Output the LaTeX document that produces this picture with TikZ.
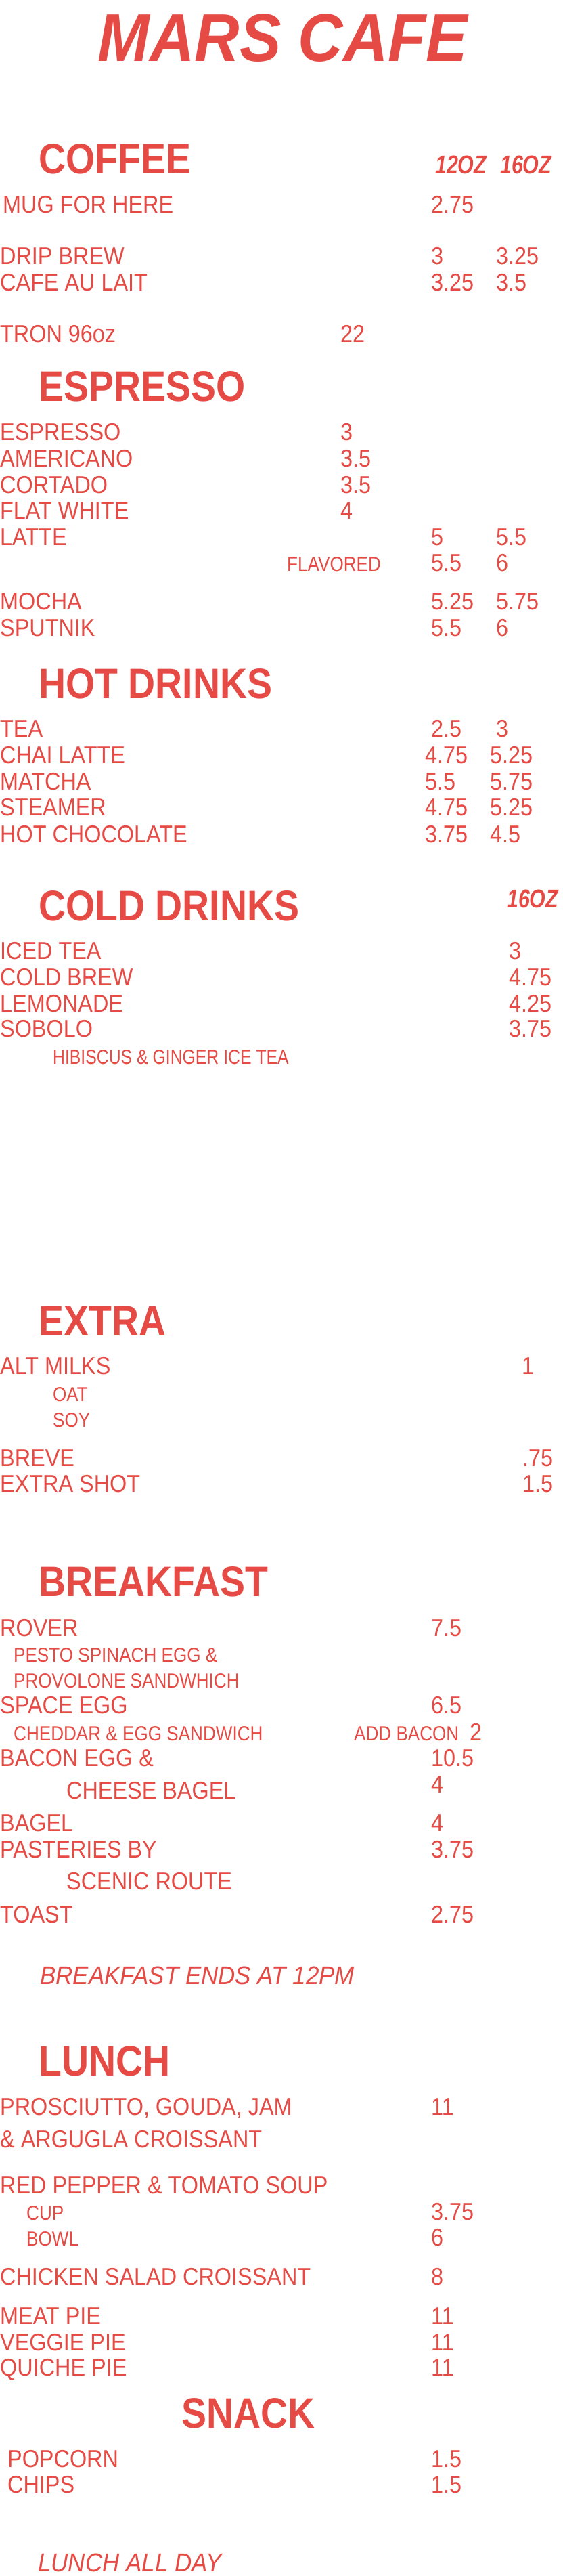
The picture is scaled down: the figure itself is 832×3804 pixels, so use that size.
\documentclass[tikz,border=0pt]{standalone}
\usepackage{fontspec}
\setmainfont{Liberation Sans}
\definecolor{mred}{HTML}{E54B44}
\newcommand{\fs}[1]{\fontsize{#1}{#1}\selectfont}
\begin{document}
\begin{tikzpicture}[x=1pt,y=-1pt,
  every node/.style={anchor=base west,inner sep=0pt,text=mred},
  title/.style={font=\fs{100}\bfseries\itshape,anchor=base,xscale=0.92},
  head/.style={font=\fs{63}\bfseries,xscale=0.88},
  size/.style={font=\fs{38}\bfseries\itshape,xscale=0.8},
  itm/.style={font=\fs{36},xscale=0.9},
  sub/.style={font=\fs{30},xscale=0.87},
  note/.style={font=\fs{38}\itshape,xscale=0.92}]
\useasboundingbox (0,0) rectangle (832,3804);
\node[title] (t) at (418,90) {MARS CAFE};
% COFFEE
\node[head] (h1) at (57,256) {COFFEE};
\node[size] (s12) at (643,256) {12OZ};
\node[size] (s16) at (739,256) {16OZ};
\node[itm] (a1) at (4,314) {MUG FOR HERE}; \node[itm] (a1p) at (637,314) {2.75};
\node[itm] (a2) at (0,390) {DRIP BREW}; \node[itm] (a2p) at (637,390) {3}; \node[itm] (a2q) at (733,390) {3.25};
\node[itm] (a3) at (0,429) {CAFE AU LAIT}; \node[itm] (a3p) at (637,429) {3.25}; \node[itm] (a3q) at (733,429) {3.5};
\node[itm] (a4) at (0,505) {TRON 96oz}; \node[itm] (a4p) at (503,505) {22};
% ESPRESSO
\node[head] (h2) at (57,592) {ESPRESSO};
\node[itm] (b1) at (0,650) {ESPRESSO}; \node[itm] (b1p) at (503,650) {3};
\node[itm] (b2) at (0,689) {AMERICANO}; \node[itm] (b2p) at (503,689) {3.5};
\node[itm] (b3) at (0,728) {CORTADO}; \node[itm] (b3p) at (503,728) {3.5};
\node[itm] (b4) at (0,766) {FLAT WHITE}; \node[itm] (b4p) at (503,766) {4};
\node[itm] (b5) at (0,805) {LATTE}; \node[itm] (b5p) at (637,805) {5}; \node[itm] (b5q) at (733,805) {5.5};
\node[sub] (b6) at (424,843) {FLAVORED}; \node[itm] (b6p) at (637,843) {5.5}; \node[itm] (b6q) at (733,843) {6};
\node[itm] (b7) at (0,900) {MOCHA}; \node[itm] (b7p) at (637,900) {5.25}; \node[itm] (b7q) at (733,900) {5.75};
\node[itm] (b8) at (0,939) {SPUTNIK}; \node[itm] (b8p) at (637,939) {5.5}; \node[itm] (b8q) at (733,939) {6};
% HOT DRINKS
\node[head] (h3) at (57,1031) {HOT DRINKS};
\node[itm] (c1) at (0,1088) {TEA}; \node[itm] (c1p) at (637,1088) {2.5}; \node[itm] (c1q) at (733,1088) {3};
\node[itm] (c2) at (0,1127) {CHAI LATTE}; \node[itm] (c2p) at (628,1127) {4.75}; \node[itm] (c2q) at (724,1127) {5.25};
\node[itm] (c3) at (0,1166) {MATCHA}; \node[itm] (c3p) at (628,1166) {5.5}; \node[itm] (c3q) at (724,1166) {5.75};
\node[itm] (c4) at (0,1204) {STEAMER}; \node[itm] (c4p) at (628,1204) {4.75}; \node[itm] (c4q) at (724,1204) {5.25};
\node[itm] (c5) at (0,1244) {HOT CHOCOLATE}; \node[itm] (c5p) at (628,1244) {3.75}; \node[itm] (c5q) at (724,1244) {4.5};
% COLD DRINKS
\node[head] (h4) at (57,1359) {COLD DRINKS};
\node[size] (s16b) at (749,1340) {16OZ};
\node[itm] (d1) at (0,1416) {ICED TEA}; \node[itm] (d1p) at (752,1416) {3};
\node[itm] (d2) at (0,1455) {COLD BREW}; \node[itm] (d2p) at (752,1455) {4.75};
\node[itm] (d3) at (0,1494) {LEMONADE}; \node[itm] (d3p) at (752,1494) {4.25};
\node[itm] (d4) at (0,1531) {SOBOLO}; \node[itm] (d4p) at (752,1531) {3.75};
\node[sub,xscale=0.95] (d5) at (78,1571) {HIBISCUS \& GINGER ICE TEA};
% EXTRA
\node[head] (h5) at (57,1972) {EXTRA};
\node[itm] (e1) at (0,2029) {ALT MILKS}; \node[itm] (e1p) at (771,2029) {1};
\node[sub] (e2) at (78,2069) {OAT};
\node[sub] (e3) at (78,2107) {SOY};
\node[itm] (e4) at (0,2165) {BREVE}; \node[itm] (e4p) at (772,2165) {.75};
\node[itm] (e5) at (0,2203) {EXTRA SHOT}; \node[itm] (e5p) at (772,2203) {1.5};
% BREAKFAST
\node[head] (h6) at (57,2357) {BREAKFAST};
\node[itm] (f1) at (0,2416) {ROVER}; \node[itm] (f1p) at (637,2416) {7.5};
\node[sub] (f2) at (20,2454) {PESTO SPINACH EGG \&};
\node[sub] (f3) at (20,2492) {PROVOLONE SANDWHICH};
\node[itm] (f4) at (0,2530) {SPACE EGG}; \node[itm] (f4p) at (637,2530) {6.5};
\node[sub] (f5) at (20,2570) {CHEDDAR \& EGG SANDWICH};
\node[sub] (f6) at (523,2570) {ADD BACON}; \node[itm] (f6p) at (694,2570) {2};
\node[itm] (f7) at (0,2608) {BACON EGG \&}; \node[itm] (f7p) at (637,2608) {10.5};
\node[itm] (f8) at (98,2656) {CHEESE BAGEL}; \node[itm] (f8p) at (637,2647) {4};
\node[itm] (f9) at (0,2704) {BAGEL}; \node[itm] (f9p) at (637,2704) {4};
\node[itm] (f10) at (0,2743) {PASTERIES BY}; \node[itm] (f10p) at (637,2743) {3.75};
\node[itm] (f11) at (98,2790) {SCENIC ROUTE};
\node[itm] (f12) at (0,2839) {TOAST}; \node[itm] (f12p) at (637,2839) {2.75};
\node[note] (f13) at (59,2930) {BREAKFAST ENDS AT 12PM};
% LUNCH
\node[head] (h7) at (57,3065) {LUNCH};
\node[itm] (g1) at (0,3123) {PROSCIUTTO, GOUDA, JAM}; \node[itm] (g1p) at (637,3123) {11};
\node[itm] (g2) at (0,3171) {\& ARGUGLA CROISSANT};
\node[itm] (g3) at (0,3239) {RED PEPPER \& TOMATO SOUP};
\node[sub] (g4) at (39,3278) {CUP}; \node[itm] (g4p) at (637,3278) {3.75};
\node[sub] (g5) at (39,3316) {BOWL}; \node[itm] (g5p) at (637,3316) {6};
\node[itm] (g6) at (0,3374) {CHICKEN SALAD CROISSANT}; \node[itm] (g6p) at (637,3374) {8};
\node[itm] (g7) at (0,3432) {MEAT PIE}; \node[itm] (g7p) at (637,3432) {11};
\node[itm] (g8) at (0,3471) {VEGGIE PIE}; \node[itm] (g8p) at (637,3471) {11};
\node[itm] (g9) at (0,3508) {QUICHE PIE}; \node[itm] (g9p) at (637,3508) {11};
% SNACK
\node[head,anchor=base] (h8) at (367,3585) {SNACK};
\node[itm] (k1) at (11,3643) {POPCORN}; \node[itm] (k1p) at (637,3643) {1.5};
\node[itm] (k2) at (11,3681) {CHIPS}; \node[itm] (k2p) at (637,3681) {1.5};
\node[note] (k3) at (56,3797) {LUNCH ALL DAY};
\end{tikzpicture}
\end{document}
